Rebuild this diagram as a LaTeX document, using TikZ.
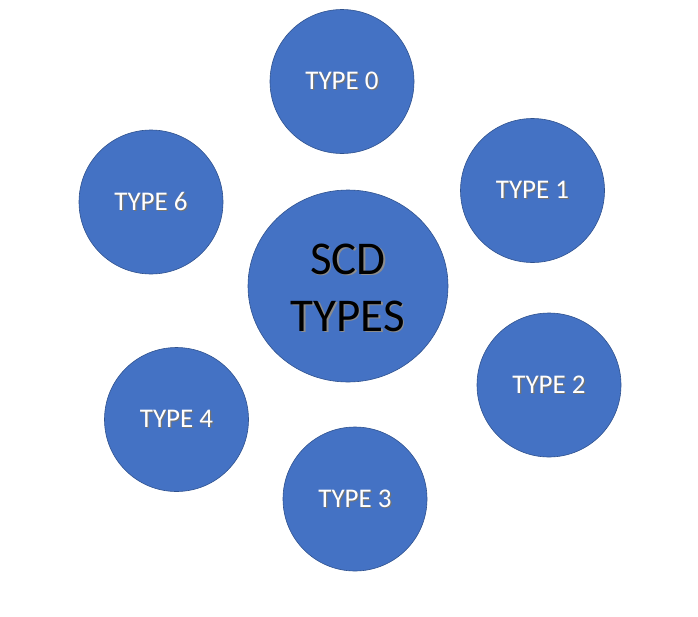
\documentclass[tikz,border=0pt]{standalone}
\usepackage{fontspec}
\usetikzlibrary{shapes.geometric}
\setmainfont{Carlito}
\definecolor{ofblue}{HTML}{4472C4}
\definecolor{ofedge}{HTML}{2F528F}
\newcommand{\shadowed}[3]{\makebox[0pt][l]{\hspace{1.3pt}\raisebox{-1.3pt}{\color{#2}#3}}{\color{#1}#3}}
\begin{document}
\begin{tikzpicture}[x=1pt,y=-1pt,
  bubble/.style={circle,fill=ofblue,draw=ofedge,line width=0.6pt,inner sep=0pt,minimum size=144pt,
    font=\fontsize{27}{32}\selectfont},
  hub/.style={ellipse,fill=ofblue,draw=ofedge,line width=0.6pt,inner sep=0pt,minimum width=200pt,minimum height=192pt},
  hubtext/.style={anchor=base,inner sep=0pt,font=\fontsize{47}{56}\selectfont}]
\useasboundingbox (0,0) rectangle (698,616);
\fill[white] (0,0) rectangle (698,616);
\node[hub] (hub) at (348,286) {};
\node[hubtext] (scd) at (348,274) {\shadowed{black}{black!45}{SCD}};
\node[hubtext] (types) at (348,331) {\shadowed{black}{black!45}{TYPES}};
\node[bubble] (t0) at (342,81.5) {\shadowed{white}{black!55}{TYPE 0}};
\node[bubble] (t1) at (532.5,190.5) {\shadowed{white}{black!55}{TYPE 1}};
\node[bubble] (t2) at (549,385) {\shadowed{white}{black!55}{TYPE 2}};
\node[bubble] (t3) at (355,499) {\shadowed{white}{black!55}{TYPE 3}};
\node[bubble] (t4) at (176.5,419.5) {\shadowed{white}{black!55}{TYPE 4}};
\node[bubble] (t6) at (151,202) {\shadowed{white}{black!55}{TYPE 6}};
\end{tikzpicture}
\end{document}
